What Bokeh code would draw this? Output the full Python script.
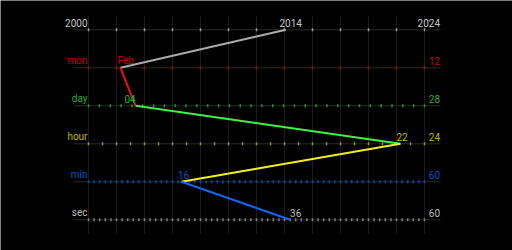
from bokeh.plotting import figure
from bokeh.models import Range1d, ColumnDataSource
from bokeh.core.properties import value
from bokeh.embed import file_html
from bokeh.resources import INLINE

# ---- data ----
row_names = ["2000", "mon", "day", "hour", "min", "sec"]
row_max_labels = ["2024", "12", "28", "24", "60", "60"]
value_labels = ["2014", "Feb", "04", "22", "16", "36"]
year_start, year_end = 2000, 2024
year_val = 2014
month_val = 2          # Feb
day_val = 4
hour_val = 22
min_val = 16
sec_val = 36
month_len = 28         # days in Feb 2014
tick_counts = [12, 12, 31, 24, 60, 60]   # tick intervals per row

# ---- styling ----
text_colors = ["#c8c8c8", "#cc0000", "#33aa33", "#bbbb00", "#0055cc", "#bdbdbd"]
tick_colors = ["#9a9a9a", "#bb0000", "#229922", "#999900", "#0048c0", "#808080"]
seg_colors = ["#aaaaaa", "#ee1111", "#44ee44", "#eeee22", "#1166ee"]
label_dx = [-5, 1, 0, 0, 0, 0]
FONT = value("Roboto")
FS = "10px"
TEXT_DY = -7

# continuous fractions along each scale
f_sec = sec_val / 60
f_min = (min_val + f_sec) / 60
f_hour = (hour_val + f_min) / 24
f_day = ((day_val - 1) + f_hour) / month_len
f_month = ((month_val - 1) + f_day) / 12
f_year = ((year_val - year_start) + f_month) / (year_end - year_start)
fracs = [f_year, f_month, f_day, f_hour, f_min, f_sec]

# integer positions (for value labels)
int_fracs = [
    (year_val - year_start) / (year_end - year_start),
    (month_val - 1) / 12,
    (day_val - 1) / month_len,
    hour_val / 24,
    min_val / 60,
    sec_val / 60,
]

W, H = 512, 250
X0, XS = 88, 336          # pixel of fraction 0, pixels per unit fraction
Y0, YS = 29.3, 38         # pixel of row 0, pixels per row

p = figure(width=W, height=H, output_backend="svg", toolbar_location=None,
           x_range=Range1d(-X0 / XS, (W - X0) / XS),
           y_range=Range1d((H - Y0) / YS, -Y0 / YS),
           x_axis_location=None, y_axis_location=None,
           min_border=0, outline_line_color=None,
           background_fill_color="black", border_fill_color="black")
p.grid.visible = False

rows = list(range(len(row_names)))
px = 1.0 / XS
py = 1.0 / YS

# vertical grid lines
gx = [k / 12 for k in range(13)]
p.segment(x0=gx, x1=gx, y0=[-14.3 * py] * 13, y1=[5 + 13.7 * py] * 13,
          line_color="#1c1c1c", line_width=1)

# horizontal scale lines
p.segment(x0=[-15 * px] * 6, x1=[1 + 16 * px] * 6, y0=rows, y1=rows,
          line_color="#2a2a2a", line_width=1)

# ticks
for r, n in enumerate(tick_counts):
    tx = [k / n for k in range(n + 1)]
    p.segment(x0=tx, x1=tx, y0=[r - 1.5 * py] * len(tx), y1=[r + 1.5 * py] * len(tx),
              line_color=tick_colors[r], line_width=1.5)

# connecting lines
p.segment(x0=fracs[:-1], x1=fracs[1:], y0=rows[:-1], y1=rows[1:],
          line_color=seg_colors, line_width=2)

# left labels
p.text(x=[-1 * px] * 6, y=rows, text=row_names, text_color=text_colors,
       text_font=FONT, text_font_size=FS, text_align="right",
       text_baseline="alphabetic", y_offset=TEXT_DY)
# right labels
p.text(x=[1 + 15.5 * px] * 6, y=rows, text=row_max_labels, text_color=text_colors,
       text_font=FONT, text_font_size=FS, text_align="right",
       text_baseline="alphabetic", y_offset=TEXT_DY)
# value labels
src = ColumnDataSource(dict(x=int_fracs, y=rows, t=value_labels, c=text_colors, dx=label_dx))
p.text(x="x", y="y", text="t", text_color="c", x_offset="dx", source=src,
       text_font=FONT, text_font_size=FS, text_align="left",
       text_baseline="alphabetic", y_offset=TEXT_DY)

open("out.html", "w").write(file_html(p, INLINE))
